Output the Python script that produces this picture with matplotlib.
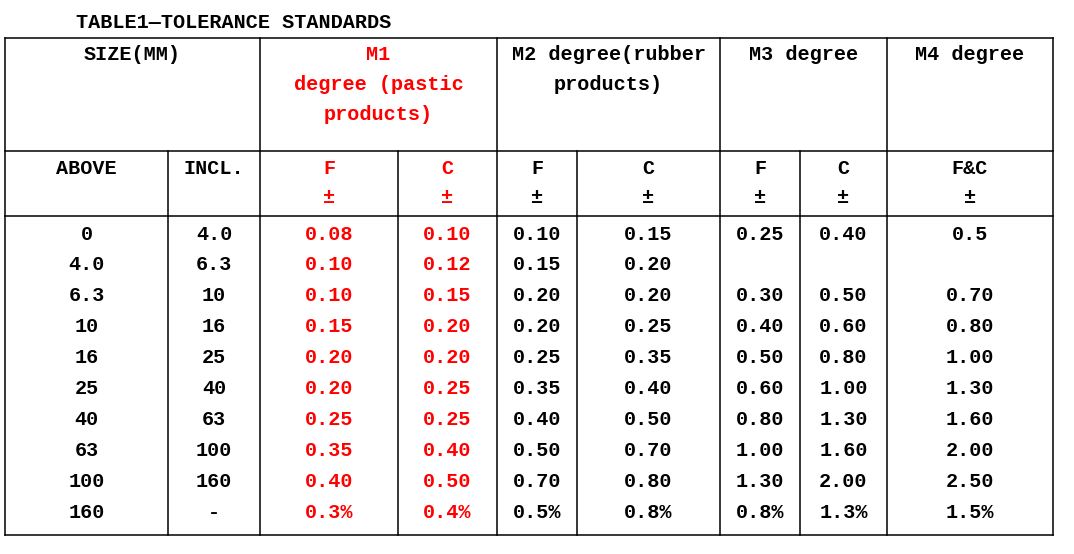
import matplotlib.pyplot as plt

above = ["0", "4.0", "6.3", "10", "16", "25", "40", "63", "100", "160"]
incl = ["4.0", "6.3", "10", "16", "25", "40", "63", "100", "160", "-"]
m1_f = ["0.08", "0.10", "0.10", "0.15", "0.20", "0.20", "0.25", "0.35", "0.40", "0.3%"]
m1_c = ["0.10", "0.12", "0.15", "0.20", "0.20", "0.25", "0.25", "0.40", "0.50", "0.4%"]
m2_f = ["0.10", "0.15", "0.20", "0.20", "0.25", "0.35", "0.40", "0.50", "0.70", "0.5%"]
m2_c = ["0.15", "0.20", "0.20", "0.25", "0.35", "0.40", "0.50", "0.70", "0.80", "0.8%"]
m3_f = ["0.25", "", "0.30", "0.40", "0.50", "0.60", "0.80", "1.00", "1.30", "0.8%"]
m3_c = ["0.40", "", "0.50", "0.60", "0.80", "1.00", "1.30", "1.60", "2.00", "1.3%"]
m4_fc = ["0.5", "", "0.70", "0.80", "1.00", "1.30", "1.60", "2.00", "2.50", "1.5%"]

title = "TABLE1—TOLERANCE STANDARDS"
groups = ["SIZE(MM)", "M1\ndegree (pastic\nproducts)", "M2 degree(rubber\nproducts)",
          "M3 degree", "M4 degree"]
subheads = ["ABOVE", "INCL.", "F\n±", "C\n±", "F\n±", "C\n±", "F\n±", "C\n±", "F&C\n±"]

# pixel geometry of the grid
xs = [5, 168, 260, 398, 497, 577, 720, 800, 887, 1053]
group_x = [(0, 2), (2, 4), (4, 6), (6, 8), (8, 9)]
y_top, y_mid, y_head, y_bot = 38, 151, 216, 535
row_h = 30.9
red = "#ff0000"
columns = [above, incl, m1_f, m1_c, m2_f, m2_c, m3_f, m3_c, m4_fc]
col_colors = ["black", "black", red, red, "black", "black", "black", "black", "black"]

W, H = 1074, 554
fig = plt.figure(figsize=(W / 100, H / 100), dpi=100)
ax = fig.add_axes([0, 0, 1, 1])
ax.set_xlim(0, W)
ax.set_ylim(H, 0)
ax.axis("off")

font = dict(family="Liberation Mono", fontsize=14.5, fontweight="bold")
lw = 1.1

# outer box and horizontal rules
for y in (y_top, y_mid, y_head, y_bot):
    ax.plot([xs[0], xs[-1]], [y, y], color="black", lw=lw)
for i, x in enumerate(xs):
    is_group_edge = any(i == a or i == b for a, b in group_x)
    y0 = y_top if is_group_edge else y_mid
    ax.plot([x, x], [y0, y_bot], color="black", lw=lw)

ax.text(76, 22, title, ha="left", va="center", **font)

for gi, (a, b) in enumerate(group_x):
    cx = (xs[a] + xs[b]) / 2
    color = red if gi == 1 else "black"
    ax.text(cx, y_top + 7, groups[gi], ha="center", va="top", color=color,
            linespacing=1.75, **font)

for i, lab in enumerate(subheads):
    cx = (xs[i] + xs[i + 1]) / 2
    ax.text(cx, y_mid + 8, lab, ha="center", va="top", color=col_colors[i],
            linespacing=1.65, **font)

for i, col in enumerate(columns):
    cx = (xs[i] + xs[i + 1]) / 2
    for r, val in enumerate(col):
        ax.text(cx, 234 + r * row_h, val, ha="center", va="center",
                color=col_colors[i], **font)

fig.savefig("out.png", dpi=100)
